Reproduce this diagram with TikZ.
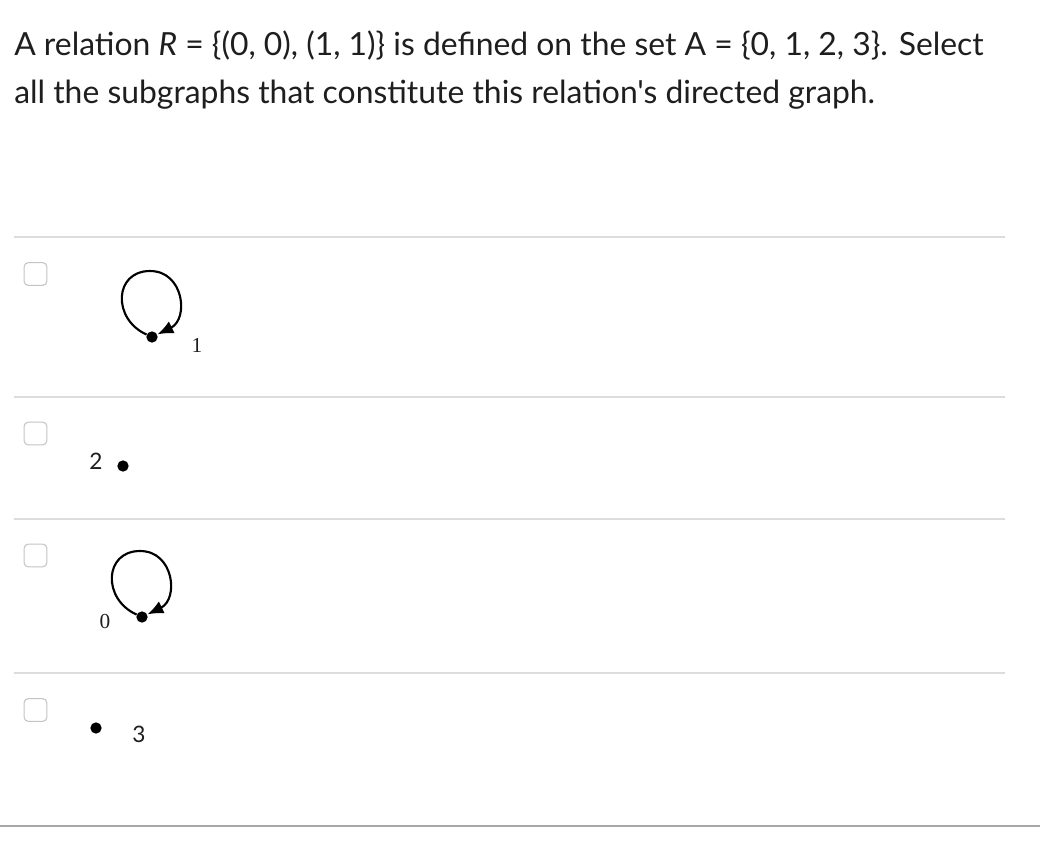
\documentclass[tikz,border=0pt]{standalone}
\usepackage{fontspec}
\setmainfont{Lato}[Ligatures=TeXOff]
\newfontfamily\labelserif{Liberation Serif}
\usepackage{xcolor}
\usepackage{tikz}
\usetikzlibrary{arrows.meta}

\definecolor{rulegray}{HTML}{DCDCDC}
\definecolor{basegray}{HTML}{A8A8A8}
\definecolor{boxgray}{HTML}{C4C4C4}
\definecolor{inkgray}{HTML}{1E1E1E}

\tikzset{
  vtx/.style={circle,fill=black,inner sep=0pt,minimum size=8.5pt},
  selfloop/.style={line width=1.6pt,-{Latex[length=12pt,width=10pt]}},
  tickbox/.style={draw=boxgray,line width=0.8pt,rounded corners=3pt,fill=white,
    minimum size=17pt,inner sep=0pt},
  qtext/.style={anchor=base west,inner sep=0pt,text=inkgray,
    font=\fontsize{23.9}{28}\selectfont},
  numlbl/.style={inner sep=0pt,text=inkgray,font=\fontsize{17}{18}\selectfont},
  seplabel/.style={inner sep=0pt,text=inkgray,font=\labelserif\fontsize{16}{18}\selectfont}
}

\begin{document}
\begin{tikzpicture}[x=0.75pt,y=-0.75pt]
\useasboundingbox (0,0) rectangle (1040,850);

% Question
\node[qtext] (line1) at (14,55) {A relation \textit{R} = \{(0, 0), (1, 1)\} is defined on the set A = \{0, 1, 2, 3\}. Select};
\node[qtext] (line2) at (14,103) {all the subgraphs that constitute this relation's directed graph.};

% Separators
\foreach \y in {237,397,519,673}
  \draw[rulegray,line width=1.2pt] (14,\y) -- (1005,\y);
\draw[basegray,line width=1.6pt] (0,826) -- (1040,826);

% Check boxes
\foreach \y [count=\i] in {274,433.5,555.5,710}
  \node[tickbox] (box\i) at (35.5,\y) {};

% Option 1: loop on 1
\node[vtx] (n1) at (152,337) {};
\node[seplabel] (lbl1) at (197,345) {1};
\coordinate (top1) at (150,271);
\draw[selfloop] (n1) .. controls +(-40,-18) and +(-36,0) .. (top1)
  .. controls +(34,0) and +(37,-18) .. (n1);

% Option 2: isolated 2
\node[vtx] (n2) at (123,466) {};
\node[numlbl] (lbl2) at (96,461) {2};

% Option 3: loop on 0
\node[vtx] (n0) at (142,617) {};
\node[seplabel] (lbl0) at (105,622) {0};
\coordinate (top0) at (140,551);
\draw[selfloop] (n0) .. controls +(-40,-18) and +(-36,0) .. (top0)
  .. controls +(34,0) and +(37,-18) .. (n0);

% Option 4: isolated 3
\node[vtx] (n3) at (96,728) {};
\node[numlbl] (lbl3) at (139,734) {3};
\end{tikzpicture}
\end{document}
